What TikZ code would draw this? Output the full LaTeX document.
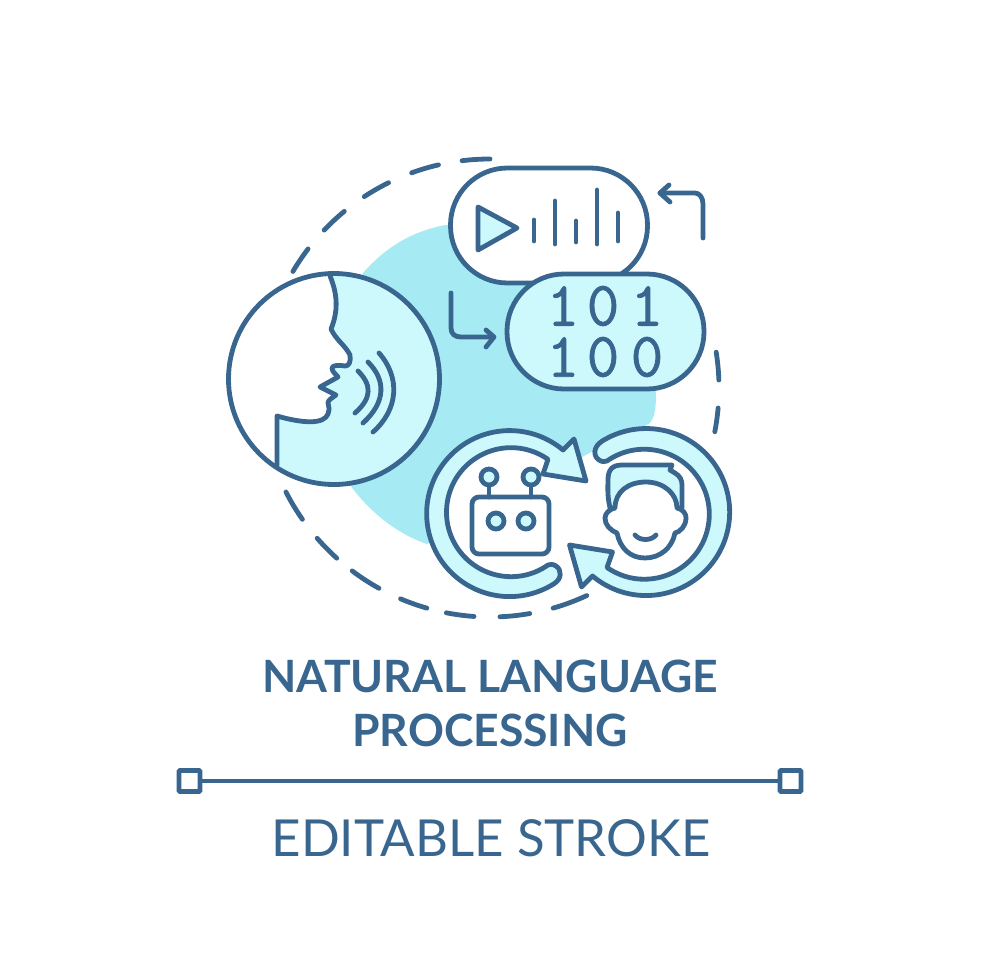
\documentclass[tikz,border=0pt]{standalone}
\usepackage{fontspec}
\setmainfont{Lato}
\newfontfamily\monod[FakeBold=1.2]{Latin Modern Mono}
\definecolor{ink}{HTML}{38668F}
\definecolor{blob}{HTML}{A6EBF4}
\definecolor{pale}{HTML}{CDF9FD}
\tikzset{
  ln/.style={draw=ink,line width=4.8pt,line cap=round,line join=round},
  dig/.style={text=ink,inner sep=0pt,font=\monod\fontsize{63}{63}\selectfont},
  ttl/.style={text=ink,inner sep=0pt,font=\bfseries\fontsize{44.5}{44.5}\selectfont},
  sub/.style={text=ink,inner sep=0pt,font=\fontsize{51}{51}\selectfont},
  handle/.style={draw=ink,line width=4.8pt,fill=white,minimum size=21pt,inner sep=0pt,rounded corners=1pt}
}
\begin{document}
\begin{tikzpicture}[x=1pt,y=-1pt]
\useasboundingbox (0,0) rectangle (980,980);
% blob
\fill[blob] (363,273) .. controls (385,248) and (410,232) .. (445,225)
  -- (600,227) .. controls (640,280) and (660,350) .. (656,395)
  .. controls (656,410) and (654,418) .. (650,423)
  .. controls (630,435) and (610,445) .. (593,451)
  -- (450,530) -- (427,544)
  .. controls (400,535) and (372,515) .. (350,485) -- (330,400) -- cycle;
% dashed circle
\foreach \a/\b in {-9/-2,5/11,65/74,80/87.5,94/101,106/113,119/127,132/139,145/153,210.6/217.4,223.6/230.5,236.7/243.7,250/257,263/270}
  \draw[ln] (490,388)+(\a:229) arc[start angle=\a,end angle=\b,radius=229];
% speaking head
\coordinate (hc) at (334,379);
\fill[white] (hc) circle[radius=105.5];
\fill[pale] (277,465) arc[start angle=123.5,end angle=-92,radius=105.5]
  .. controls (338,295) and (338,312) .. (331,329) .. controls (336,340) and (345,345) .. (350,355)
  .. controls (351,362) and (349,366) .. (345,366) .. controls (340,365) and (332,365) .. (332,368) .. controls (332,372) and (336,374) .. (338,377)
  -- (320,387) -- (336,395) .. controls (332,398) and (328,400) .. (328,403) .. controls (329,408) and (330,411) .. (328,414)
  .. controls (324,424) and (305,424) .. (277,416) -- cycle;
\draw[ln] (hc) circle[radius=105.5];
\draw[ln] (330,276) .. controls (338,295) and (338,312) .. (331,329) .. controls (336,340) and (345,345) .. (350,355)
  .. controls (351,362) and (349,366) .. (345,366) .. controls (340,365) and (332,365) .. (332,368) .. controls (332,372) and (336,374) .. (338,377)
  -- (320,387) -- (336,395) .. controls (332,398) and (328,400) .. (328,403) .. controls (329,408) and (330,411) .. (328,414)
  .. controls (324,424) and (305,424) .. (277,416) -- (277,465);
\draw[ln] (358,371) .. controls (372,385) and (372,398) .. (355,413);
\draw[ln] (368,362) .. controls (386,380) and (386,402) .. (363,423);
\draw[ln] (379,353) .. controls (401,378) and (398,410) .. (373,432);
% audio pill
\node[ln,fill=white,rounded corners=57pt,minimum width=197pt,minimum height=115pt,inner sep=0pt,anchor=center] (audio) at (549,225.5) {};
\draw[ln,fill=pale] (478,207) -- (517,228) -- (478,250) -- cycle;
\draw[ln] (534,220) -- (534,241);
\draw[ln] (555,201) -- (555,244);
\draw[ln] (576,221) -- (576,242);
\draw[ln] (597,190) -- (597,244);
\draw[ln] (618,213) -- (618,241);
% binary pill
\node[ln,fill=pale,rounded corners=57pt,minimum width=197pt,minimum height=115pt,inner sep=0pt,anchor=center] (binary) at (605.5,331.5) {};
\node[dig] (d1) at (563,306) {1};
\node[dig] (d2) at (603,306) {0};
\node[dig] (d3) at (647,306) {1};
\node[dig] (d4) at (563,357) {1};
\node[dig] (d5) at (603,357) {0};
\node[dig] (d6) at (647,357) {0};
% small arrows
\draw[ln] (703,238) -- (703,204) .. controls (703,197) and (699,193) .. (695,193) -- (660,193);
\draw[ln] (669,185) -- (660,193) -- (670,202);
\draw[ln] (451,293) -- (451,328) .. controls (451,334) and (455,337) .. (461,337) -- (493,337);
\draw[ln] (486,330) -- (494,337) -- (486,347);
% rings
\coordinate (lc) at (511,512.5);
\coordinate (rc) at (644.5,513.5);
\fill[white] (lc) circle[radius=65];
\fill[white] (rc) circle[radius=65];
\draw[ln,fill=pale] (563,450) arc[start angle=-50,end angle=-302,radius=83]
  .. controls (562,579) and (562,570) .. (556,566) .. controls (553,564) and (550,564) .. (548,565)
  arc[start angle=55,end angle=305,radius=64.5] -- (543,474) -- (586,481) -- (574,439) -- cycle;
\draw[ln,fill=pale] (592.5,576) arc[start angle=130,end angle=-122,radius=83.5]
  .. controls (593,447) and (593,456) .. (599,460) .. controls (602,462) and (605,462) .. (607,461)
  arc[start angle=235,end angle=485,radius=65] -- (612.5,552) -- (569.5,545) -- (581.5,587) -- cycle;
% robot
\draw[ln] (489,485) -- (489,497);
\draw[ln] (531,485) -- (531,497);
\draw[ln,fill=pale] (489,477) circle[radius=8];
\draw[ln,fill=pale] (531,477) circle[radius=8];
\draw[ln,rounded corners=7pt] (472,497) rectangle (549,554);
\draw[ln,fill=pale] (496,521) circle[radius=8];
\draw[ln,fill=pale] (526,521) circle[radius=8];
% person
\draw[ln,fill=pale] (610,508) .. controls (607,495) and (608,485) .. (608,480) .. controls (608,470) and (612,465) .. (622,465)
  -- (672,465) -- (670,470) -- (675,473) .. controls (680,476) and (682,480) .. (682,485) -- (682,508) -- cycle;
\draw[ln,fill=white] (615,508) .. controls (615,492) and (628,482) .. (646,482) .. controls (664,482) and (677,494) .. (677,508)
  .. controls (684,510) and (686,514) .. (686,518) .. controls (686,526) and (680,532) .. (675,533)
  .. controls (672,548) and (660,558) .. (645,558) .. controls (630,558) and (620,548) .. (617,533)
  .. controls (610,530) and (605,525) .. (605,518) .. controls (605,513) and (610,509) .. (615,508) -- cycle;
\draw[ln] (635,535) .. controls (640,541) and (651,541) .. (656,535);
% text
\node[ttl] (t1) at (490,676) {NATURAL LANGUAGE};
\node[ttl] (t2) at (490,730.5) {PROCESSING};
\node[handle] (hl) at (189.5,781) {};
\node[handle] (hr) at (790.5,781) {};
\draw[draw=ink,line width=4.8pt] (hl) -- (hr);
\node[sub] (t3) at (491,838) {EDITABLE STROKE};
\end{tikzpicture}
\end{document}
